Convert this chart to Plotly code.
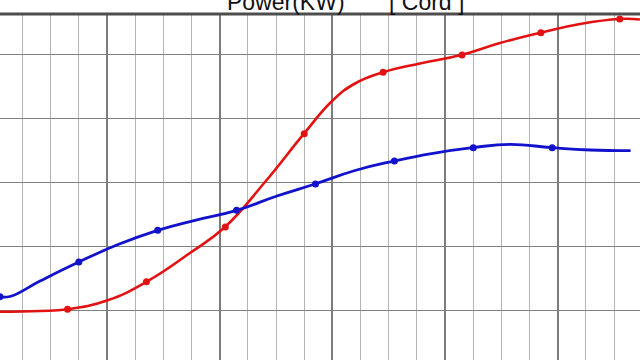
import plotly.graph_objects as go

# Power curve (red) - smooth line points and marker points
power_rpm = [1051, 1406, 1651, 2000, 2352, 2736, 3047, 3402, 3748, 4002, 4201, 4449,
             4777, 5141, 5487, 5848, 6197, 6548, 6729]
power_kw = [9.73, 9.84, 10.11, 11.48, 14.42, 18.90, 22.97, 30.00, 37.55, 42.73, 45.39, 47.14,
            48.52, 49.84, 51.72, 53.33, 54.69, 55.47, 55.39]
power_mark_rpm = [1650, 2350, 3050, 3750, 4450, 5150, 5850, 6550]
power_mark_kw = [10.11, 14.42, 22.97, 37.55, 47.14, 49.84, 53.33, 55.47]

# Second curve (blue)
cord_rpm = [1051, 1139, 1406, 1750, 2098, 2449, 2790, 3151, 3508, 3846,
            4201, 4547, 4893, 5245, 5576, 5949, 6286, 6646]
cord_val = [12.08, 12.11, 14.53, 17.50, 20.23, 22.45, 24.06, 25.58, 27.81, 29.69,
            31.80, 33.28, 34.48, 35.36, 35.89, 35.36, 35.00, 34.89]
cord_mark_rpm = [1050, 1750, 2450, 3150, 3850, 4550, 5250, 5950]
cord_mark_val = [12.08, 17.50, 22.45, 25.58, 29.69, 33.28, 35.36, 35.36]

title_left = "Power(KW)"
title_right = "[ Cord ]"

RED = "#e31212"
BLUE = "#1212cc"

fig = go.Figure()
fig.add_trace(go.Scatter(x=power_rpm, y=power_kw, mode="lines",
                         line=dict(color=RED, width=2.6, shape="spline", smoothing=1.3),
                         hoverinfo="skip", showlegend=False))
fig.add_trace(go.Scatter(x=power_mark_rpm, y=power_mark_kw, mode="markers",
                         marker=dict(color=RED, size=7), showlegend=False))
fig.add_trace(go.Scatter(x=cord_rpm, y=cord_val, mode="lines",
                         line=dict(color=BLUE, width=2.8, shape="spline", smoothing=1.3),
                         hoverinfo="skip", showlegend=False))
fig.add_trace(go.Scatter(x=cord_mark_rpm, y=cord_mark_val, mode="markers",
                         marker=dict(color=BLUE, size=7), showlegend=False))

fig.update_xaxes(range=[1050.6, 6729.4], tick0=0, dtick=1000,
                 showgrid=True, gridcolor="#7c7c7c", gridwidth=1.8,
                 minor=dict(dtick=250, tick0=0, showgrid=True, gridcolor="#b4b4b4", gridwidth=1),
                 showticklabels=False, ticks="", zeroline=False, showline=False)
fig.update_yaxes(range=[2.1875, 56.25], tick0=0, dtick=10,
                 showgrid=True, gridcolor="#808080", gridwidth=1,
                 showticklabels=False, ticks="", zeroline=False, showline=False)

fig.add_shape(type="line", xref="paper", yref="paper", x0=0, x1=1, y0=1, y1=1,
              line=dict(color="#4d4d4d", width=3), layer="above")

font = dict(family="Liberation Sans, Arial, sans-serif", size=23, color="#111111")
fig.add_annotation(text=title_left, xref="paper", yref="paper", x=286/640, y=1 + 12/346,
                   xanchor="center", yanchor="middle", showarrow=False, font=font)
fig.add_annotation(text=title_right, xref="paper", yref="paper", x=426.7/640, y=1 + 12/346,
                   xanchor="center", yanchor="middle", showarrow=False, font=font)

fig.update_layout(width=640, height=360, margin=dict(l=0, r=0, t=14, b=0),
                  paper_bgcolor="white", plot_bgcolor="white")

fig.write_html("out.html")
